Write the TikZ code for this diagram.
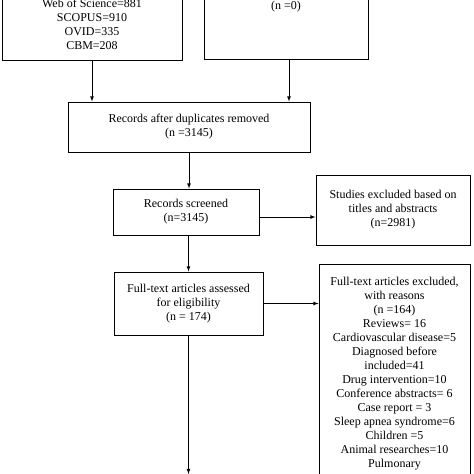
\documentclass[tikz,border=0pt]{standalone}
\usepackage{fontspec}
\setmainfont{Liberation Serif}
\usetikzlibrary{arrows}
\tikzstyle{box} = [draw, line width=1pt, align=center, inner sep=0pt, font=\fontsize{12}{14}\selectfont]
\tikzstyle{txt} = [align=center, inner sep=0pt, font=\fontsize{12}{14}\selectfont]
\tikzstyle{arr} = [-latex, line width=0.8pt]

\begin{document}
\begin{tikzpicture}[x=1pt,y=-1pt]
	\useasboundingbox (0,0) rectangle (474,474);
	\clip (0,0) rectangle (474,474);
	\node [box, minimum width=180, minimum height=100, anchor=south] (db) at (92,61) {};
	\node [txt] (dbtext) at (92,24.5) {Web of Science=881\\SCOPUS=910\\OVID=335\\CBM=208};
	\node [box, minimum width=164, minimum height=100, anchor=south] (other) at (286,60) {};
	\node [txt] (othertext) at (286,7) {(n =0)};
	\node [box, minimum width=242, minimum height=50] (dup) at (189,127) {Records after duplicates removed\\(n =3145)};
	\node [box, minimum width=146, minimum height=46] (screen) at (186,212) {Records screened\\(n=3145)};
	\node [box, minimum width=154, minimum height=70] (excl) at (393,210) {Studies excluded based on\\titles and abstracts\\(n=2981)};
	\node [box, minimum width=149, minimum height=63] (full) at (188.5,303.5) {Full-text articles assessed\\for eligibility\\(n = 174)};
	\node [box, minimum width=151, inner ysep=13pt, anchor=north] (fullexcl) at (394.5,264) {Full-text articles excluded,\\with reasons\\(n =164)\\Reviews= 16\\Cardiovascular disease=5\\Diagnosed before\\included=41\\Drug intervention=10\\Conference abstracts= 6\\Case report = 3\\Sleep apnea syndrome=6\\Children =5\\Animal researches=10\\Pulmonary};
	\coordinate (next) at (188.5,474);

	\draw [arr] (db.south) -- (db.south |- dup.north);
	\draw [arr] ([xshift=3pt]other.south) -- ([xshift=3pt]other.south |- dup.north);
	\draw [arr] (dup.south) -- (dup.south |- screen.north);
	\draw [arr] (full.north |- screen.south) -- (full.north);
	\draw [arr] ([yshift=-5pt]screen.east) -- ([yshift=-5pt]screen.east -| excl.west);
	\draw [arr] (full.east) -- (full.east -| fullexcl.west);
	\draw [arr] (full.south) -- (next);
\end{tikzpicture}
\end{document}
